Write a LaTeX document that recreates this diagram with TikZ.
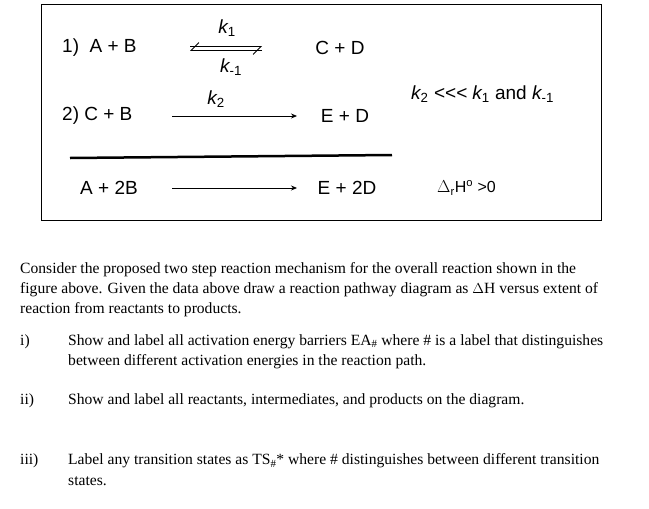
\documentclass[tikz,border=0pt]{standalone}
\usepackage{fontspec}
\setmainfont{Liberation Serif}
\newfontfamily\arialfam{Liberation Sans}
\usetikzlibrary{arrows.meta}
\begin{document}
\begin{tikzpicture}[x=1pt,y=-1pt,
  eq/.style={font=\arialfam\fontsize{19}{22}\selectfont,inner sep=0pt},
  kk/.style={font=\arialfam\itshape\fontsize{19}{22}\selectfont,inner sep=0pt},
  body/.style={font=\fontsize{15.6}{18}\selectfont,inner sep=0pt,anchor=west},
  rarr/.style={draw,line width=0.8pt,-{Stealth[length=6pt,width=5pt]}}]
\useasboundingbox (0,0) rectangle (649,509);
\draw[line width=0.8pt] (41,4) rectangle (601,220);
% reaction 1
\node[eq,anchor=west] (r1) at (62,48) {1)\ \ A + B};
\node[eq] (p1) at (340,48) {C + D};
\coordinate (h1a) at (190,46.5); \coordinate (h1b) at (262,46.5);
\coordinate (h2a) at (262,50.5); \coordinate (h2b) at (190,50.5);
\draw[line width=0.8pt,-{Straight Barb[right,length=8pt]}] (h1a) -- (h1b);
\draw[line width=0.8pt,-{Straight Barb[right,length=8pt]}] (h2a) -- (h2b);
\node[kk] (k1) at (227,28) {k\textsubscript{\upshape 1}};
\node[kk] (km1) at (231,67) {k\textsubscript{\upshape -1}};
% reaction 2
\node[eq,anchor=west] (r2) at (62,116) {2)\ C + B};
\node[eq] (p2) at (345,116) {E + D};
\draw[rarr] (172,116) -- (297,116);
\node[kk] (k2) at (216,99) {k\textsubscript{\upshape 2}};
\node[kk,anchor=west] (cond) at (411,94) {k\textsubscript{\upshape 2} <<< k\textsubscript{\upshape 1} {\upshape and} k\textsubscript{\upshape -1}};
\draw[line width=2.5pt] (70,158) -- (392,155);
% overall
\node[eq,anchor=west] (r3) at (80,188) {A + 2B};
\node[eq] (p3) at (347,188) {E + 2D};
\draw[rarr] (172,188) -- (297,188);
\node[eq,anchor=west,font=\arialfam\fontsize{16}{18}\selectfont] (dh) at (437,188) {$\Delta$\textsubscript{r}H\textsuperscript{o} >0};
% text
\node[body] (t1) at (20,270) {Consider the proposed two step reaction mechanism for the overall reaction shown in the};
\node[body] (t2) at (20,290) {figure above. Given the data above draw a reaction pathway diagram as $\Delta$H versus extent of};
\node[body] (t3) at (20,310) {reaction from reactants to products.};
\node[body] (i1) at (20,342) {i)};
\node[body] (i1a) at (68,342) {Show and label all activation energy barriers EA\textsubscript{\#} where \# is a label that distinguishes};
\node[body] (i1b) at (68,362) {between different activation energies in the reaction path.};
\node[body] (i2) at (20,401) {ii)};
\node[body] (i2a) at (68,401) {Show and label all reactants, intermediates, and products on the diagram.};
\node[body] (i3) at (20,461) {iii)};
\node[body] (i3a) at (68,461) {Label any transition states as TS\textsubscript{\#}* where \# distinguishes between different transition};
\node[body] (i3b) at (68,481) {states.};
\end{tikzpicture}
\end{document}
